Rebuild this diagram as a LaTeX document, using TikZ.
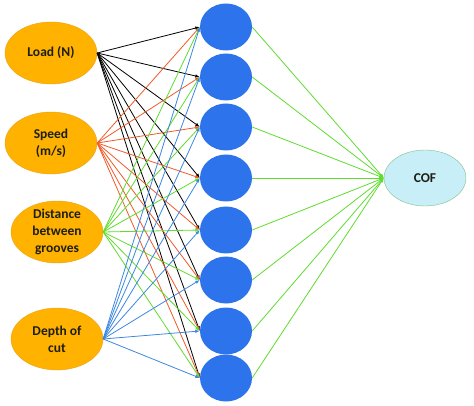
\documentclass[tikz,border=0pt]{standalone}
\usepackage{fontspec}
\setmainfont{Carlito}
\usepackage{tikz}
\usetikzlibrary{arrows.meta,shapes.geometric}
\definecolor{InOrange}{RGB}{255,178,0}
\definecolor{InBorder}{RGB}{235,160,20}
\definecolor{HidBlue}{RGB}{45,115,235}
\definecolor{OutCyan}{RGB}{200,238,247}
\definecolor{OutBorder}{RGB}{130,190,140}
\definecolor{TxtDark}{RGB}{30,30,20}
\definecolor{LinkRed}{RGB}{240,90,40}
\definecolor{LinkGreen}{RGB}{95,220,45}
\definecolor{LinkBlue}{RGB}{60,135,225}

\begin{document}
\begin{tikzpicture}[x=1pt,y=1pt,>={Latex[length=4.5pt,width=3.5pt]},
  innode/.style={ellipse,draw=InBorder,fill=InOrange,minimum width=92pt,minimum height=62pt,inner sep=0pt,inner ysep=-4pt,align=center,text=TxtDark,font=\fontsize{13.5}{17}\selectfont\bfseries},
  hidnode/.style={ellipse,fill=HidBlue,minimum width=52pt,minimum height=47pt,inner sep=0pt},
  outnode/.style={ellipse,draw=OutBorder,fill=OutCyan,minimum width=82pt,minimum height=56pt,inner sep=0pt,text=TxtDark,font=\fontsize{13.5}{17}\selectfont\bfseries},
  link/.style={->,line width=0.8pt}]
\useasboundingbox (0,0) rectangle (474,-406);
\node[innode] (load) at (51,-53) {Load (N)};
\node[innode] (speed) at (51,-143) {Speed\\(m/s)};
\node[innode] (dist) at (57,-232) {Distance\\between\\grooves};
\node[innode] (depth) at (57,-339) {Depth of\\cut};
\foreach \i/\y in {1/27,2/77,3/127,4/178,5/230,6/280,7/331,8/378}
  \node[hidnode] (h\i) at (226,-\y) {};
\node[outnode] (cof) at (425,-178) {COF};
\foreach \src/\col in {load/black,speed/LinkRed,dist/LinkGreen,depth/LinkBlue}
  \foreach \i in {1,...,8}
    \draw[link,\col] (\src.east) -- (h\i.west);
\foreach \i in {1,...,8}
  \draw[link,LinkGreen] (h\i.east) -- (cof.west);
\end{tikzpicture}
\end{document}
